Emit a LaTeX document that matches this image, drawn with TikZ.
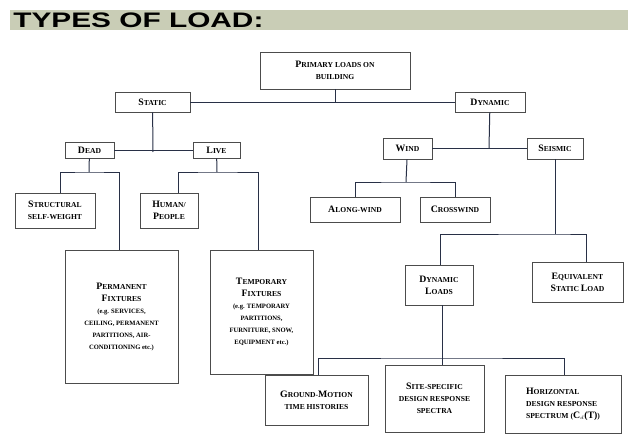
\documentclass[tikz,border=0pt]{standalone}
\usepackage{fontspec}
\setmainfont{Liberation Serif}
\newfontfamily\titlefont{Liberation Sans}
\definecolor{barcol}{RGB}{201,205,182}
\definecolor{linecol}{RGB}{40,48,70}
\newcommand\B[1]{{\fontsize{9.8}{10}\selectfont #1}}
\newcommand\smalltxt{\fontsize{6.6}{10.5}\selectfont}
\begin{document}
\begin{tikzpicture}[x=1pt,y=-1pt,
    box/.style={draw=black!70,line width=0.6pt,align=center,inner sep=2pt,
      font=\bfseries\fontsize{7.6}{12}\selectfont},
    link/.style={draw=linecol,line width=1pt}]
\useasboundingbox (0,0) rectangle (638,442);
% title bar
\fill[barcol] (10,10) rectangle (628,30);
\node[anchor=west,inner sep=0pt,xscale=1.42,transform shape,font=\titlefont\bfseries\fontsize{21}{21}\selectfont] (title) at (13,20) {TYPES OF LOAD:};

% boxes (given by corners)
\newcommand\bx[6]{\node[box,minimum width=#4-#2,minimum height=#5-#3] (#1) at ({(#2+#4)/2},{(#3+#5)/2}) {#6};}
\bx{prim}{260}{52}{410}{89}{\B{P}RIMARY LOADS ON\\BUILDING}
\bx{stat}{115}{92}{190}{112}{\B{S}TATIC}
\bx{dyn}{455}{92}{525}{112}{\B{D}YNAMIC}
\bx{dead}{65}{142}{114}{158}{\B{D}EAD}
\bx{live}{193}{142}{240}{158}{\B{L}IVE}
\bx{wind}{383}{138}{432}{159}{\B{W}IND}
\bx{seis}{527}{138}{583}{159}{\B{S}EISMIC}
\bx{struct}{15}{193}{95}{228}{\B{S}TRUCTURAL\\SELF-WEIGHT}
\bx{human}{140}{193}{198}{228}{\B{H}UMAN/\\\B{P}EOPLE}
\bx{perm}{65}{250}{178}{383}{\B{P}ERMANENT\\\B{F}IXTURES\\{\smalltxt(e.g. SERVICES,}\\{\smalltxt CEILING, PERMANENT}\\{\smalltxt PARTITIONS, AIR-}\\{\smalltxt CONDITIONING etc.)}}
\bx{temp}{210}{250}{313}{374}{\B{T}EMPORARY\\\B{F}IXTURES\\{\smalltxt(e.g. TEMPORARY}\\{\smalltxt PARTITIONS,}\\{\smalltxt FURNITURE, SNOW,}\\{\smalltxt EQUIPMENT etc.)}}
\bx{along}{310}{197}{400}{222}{\B{A}LONG-WIND}
\bx{cross}{420}{197}{490}{222}{\B{C}ROSSWIND}
\bx{dynl}{405}{265}{473}{305}{\B{D}YNAMIC\\\B{L}OADS}
\bx{equiv}{532}{262}{623}{302}{\B{E}QUIVALENT\\\B{S}TATIC \B{L}OAD}
\bx{ground}{265}{375}{368}{425}{\B{G}ROUND-\B{M}OTION\\TIME HISTORIES}
\bx{site}{385}{365}{484}{432}{\B{S}ITE-SPECIFIC\\DESIGN RESPONSE\\SPECTRA}
\node[box,align=left,minimum width=116,minimum height=58] (horiz) at (563,404) {\B{H}ORIZONTAL\\DESIGN RESPONSE\\SPECTRUM (\B{C}$_{d}$\B{(T)})};

% junction points
\coordinate (j0) at (335,103);
\coordinate (j1) at (153,152);
\coordinate (j2) at (489,148);
\coordinate (j3) at (89,172);
\coordinate (j4) at (217,172);
\coordinate (j5) at (406,182);
\coordinate (j6) at (555,234);
\coordinate (j7) at (442,358);

% connectors
\draw[link] (prim) -- (j0);
\draw[link] (stat) -- (dyn);
\draw[link] (stat) -- (j1);
\draw[link] (dead) -- (live);
\draw[link] (dyn) -- (j2);
\draw[link] (wind) -- (seis);
\draw[link] (dead) -- (j3);
\draw[link] (struct.north -| 60,0) |- (j3) -| (perm.north -| 119,0);
\draw[link] (live) -- (j4);
\draw[link] (human.north -| 178,0) |- (j4) -| (temp.north -| 258,0);
\draw[link] (wind) -- (j5);
\draw[link] (along.north) |- (j5) -| (cross.north);
\draw[link] (seis.south -| 555,0) -- (j6);
\draw[link] (dynl.north -| 440,0) |- (j6) -| (equiv.north -| 586,0);
\draw[link] (dynl.south -| 442,0) -- (j7);
\draw[link] (ground.north -| 318,0) |- (j7) -| (horiz.north -| 564,0);
\draw[link] (j7) -- (site.north -| 442,0);
\end{tikzpicture}
\end{document}
